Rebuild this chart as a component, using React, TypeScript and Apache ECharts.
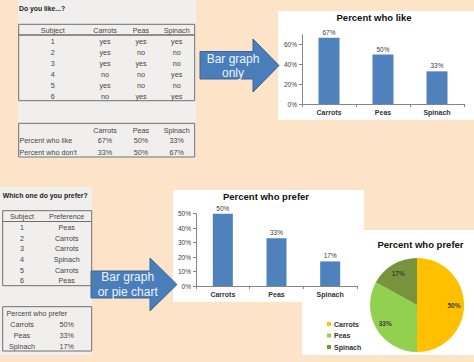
import React, { useEffect, useRef } from "react";
import * as echarts from "echarts";

// ---------- data ----------
const vegetables = ["Carrots", "Peas", "Spinach"];
const subjects = [1, 2, 3, 4, 5, 6];
const likesCarrots = ["yes", "yes", "yes", "no", "yes", "no"];
const likesPeas = ["yes", "no", "yes", "no", "no", "yes"];
const likesSpinach = ["yes", "no", "no", "yes", "no", "yes"];
const percentLike = [67, 50, 33];
const percentDislike = [33, 50, 67];
const preferences = ["Peas", "Carrots", "Carrots", "Spinach", "Carrots", "Peas"];
const percentPrefer = [50, 33, 17];

const FONT = "Liberation Sans, Arial, sans-serif";
const BLUE = "#4f81bd";
const PIE_COLORS = ["#ffc000", "#92d050", "#77933c"];
const TABLE_TEXT = "#454545";

const txt = (text: string, x: number, y: number, extra: any = {}) => ({
  type: "text",
  x,
  y,
  z: 5,
  style: {
    text,
    fill: TABLE_TEXT,
    fontSize: 7.2,
    fontFamily: FONT,
    align: "center",
    verticalAlign: "middle",
    ...extra,
  },
});

const rect = (x: number, y: number, w: number, h: number, style: any, z = 0) => ({
  type: "rect",
  z,
  shape: { x, y, width: w, height: h },
  style,
});

const hline = (x1: number, x2: number, y: number, lw = 1) => ({
  type: "line",
  z: 4,
  shape: { x1, y1: y, x2, y2: y },
  style: { stroke: "#6f6f6f", lineWidth: lw },
});

const arrow = (x0: number, xh: number, xt: number, ry0: number, ry1: number, hy0: number, hy1: number, ty: number) => ({
  type: "polygon",
  z: 3,
  shape: {
    points: [
      [x0, ry0],
      [xh, ry0],
      [xh, hy0],
      [xt, ty],
      [xh, hy1],
      [xh, ry1],
      [x0, ry1],
    ],
  },
  style: { fill: "#4a7ebb", stroke: "#3a6497", lineWidth: 1 },
});

function buildGraphics() {
  const els: any[] = [];
  // panels
  els.push(rect(18, 0, 178, 158, { fill: "#f0efee" }));
  els.push(rect(0, 187, 92, 168, { fill: "#f0efee" }));
  els.push(rect(278, 11, 196, 109, { fill: "#ffffff" }));
  els.push(rect(173, 190, 191, 112, { fill: "#ffffff" }));
  els.push(rect(302, 230, 172, 125, { fill: "#ffffff" }));

  // table 1
  els.push(txt("Do you like...?", 19, 8.5, { align: "left", fontWeight: "bold", fontSize: 6.8, fill: "#222" }));
  els.push(rect(18.7, 24.3, 176, 76.4, { fill: "none", stroke: "#6f6f6f", lineWidth: 1 }, 4));
  els.push(hline(18.7, 194.7, 35, 1.3));
  const cols1 = [52.7, 105, 141, 176.7];
  ["Subject", ...vegetables].forEach((h, i) => els.push(txt(h, cols1[i], 30)));
  subjects.forEach((s, r) => {
    const y = 41.3 + r * 10.95;
    els.push(txt(String(s), cols1[0], y));
    els.push(txt(likesCarrots[r], cols1[1], y));
    els.push(txt(likesPeas[r], cols1[2], y));
    els.push(txt(likesSpinach[r], cols1[3], y));
  });

  // table 2
  els.push(rect(18.7, 123.3, 176, 33.7, { fill: "none", stroke: "#6f6f6f", lineWidth: 1 }, 4));
  vegetables.forEach((v, i) => els.push(txt(v, cols1[i + 1], 130)));
  els.push(txt("Percent who like", 19.5, 140.7, { align: "left" }));
  els.push(txt("Percent who don't", 19.5, 152, { align: "left" }));
  percentLike.forEach((p, i) => els.push(txt(p + "%", cols1[i + 1], 140.7)));
  percentDislike.forEach((p, i) => els.push(txt(p + "%", cols1[i + 1], 152)));

  // table 3
  els.push(txt("Which one do you prefer?", 2.7, 195.3, { align: "left", fontWeight: "bold", fontSize: 6.9, fill: "#222" }));
  els.push(rect(2.7, 210.7, 89, 75, { fill: "none", stroke: "#6f6f6f", lineWidth: 1 }, 4));
  els.push(hline(2.7, 91.7, 221.5, 1.2));
  const cols3 = [22, 66.7];
  els.push(txt("Subject", cols3[0], 216.5));
  els.push(txt("Preference", cols3[1], 216.5));
  subjects.forEach((s, r) => {
    const y = 227.7 + r * 10.6;
    els.push(txt(String(s), cols3[0], y));
    els.push(txt(preferences[r], cols3[1], y));
  });

  // table 4
  els.push(rect(2.7, 306.7, 89, 44.3, { fill: "none", stroke: "#6f6f6f", lineWidth: 1 }, 4));
  els.push(txt("Percent who prefer", 6.5, 313.7, { align: "left" }));
  vegetables.forEach((v, i) => {
    const y = 324.7 + i * 10.8;
    els.push(txt(v, cols3[0], y));
    els.push(txt(percentPrefer[i] + "%", cols3[1], y));
  });

  // arrows
  els.push(arrow(200, 253, 279, 51.5, 79, 39, 92, 65.5));
  els.push(txt("Bar graph\nonly", 233, 66, { fontSize: 12, fill: "#eef3fa", lineHeight: 14.6 }));
  els.push(arrow(91, 150, 177, 271, 298, 258, 311, 284.5));
  els.push(txt("Bar graph\nor pie chart", 127.7, 284.7, { fontSize: 12, fill: "#eef3fa", lineHeight: 14.7 }));

  // chart titles
  const titleStyle = { fontSize: 9.5, fontWeight: "bold", fill: "#111" };
  els.push(txt("Percent who like", 374, 17.5, titleStyle));
  els.push(txt("Percent who prefer", 266, 196.3, titleStyle));
  els.push(txt("Percent who prefer", 420.5, 244.5, titleStyle));
  return els;
}

const axisLabelY = { fontSize: 6.5, color: "#404040", fontFamily: FONT, margin: 5, formatter: "{value}%" };
const axisLabelX = { fontSize: 7, fontWeight: "bold", color: "#333", fontFamily: FONT, margin: 4.5 };
const axisLine = { show: true, lineStyle: { color: "#868686", width: 1 } };
const axisTick = { show: true, length: 3, lineStyle: { color: "#868686" } };
const barLabel = { show: true, position: "top", distance: 2, formatter: "{c}%", fontSize: 6.5, color: "#404040", fontFamily: FONT };

export default function App() {
  const ref = useRef<HTMLDivElement>(null);
  useEffect(() => {
    document.body.style.margin = "0";
    if (!ref.current) return;
    const chart = echarts.init(ref.current, undefined, { renderer: "svg" });
    const pieData = vegetables.map((name, i) => ({ name, value: percentPrefer[i], itemStyle: { color: PIE_COLORS[i] } }));
    chart.setOption({
      animation: false,
      backgroundColor: "#fde4c9",
      textStyle: { fontFamily: FONT },
      graphic: { elements: buildGraphics() },
      grid: [
        { left: 302, top: 34.7, width: 162, height: 69.3 },
        { left: 196, top: 213.7, width: 161, height: 72.3 },
      ],
      xAxis: [
        { type: "category", gridIndex: 0, data: vegetables, axisLine, axisTick, axisLabel: axisLabelX },
        { type: "category", gridIndex: 1, data: vegetables, axisLine, axisTick, axisLabel: axisLabelX },
      ],
      yAxis: [
        { type: "value", gridIndex: 0, min: 0, max: 70, interval: 20, axisLine, axisTick, splitLine: { show: false }, axisLabel: { ...axisLabelY, showMaxLabel: false } },
        { type: "value", gridIndex: 1, min: 0, max: 50, interval: 10, axisLine, axisTick, splitLine: { show: false }, axisLabel: { ...axisLabelY, showMaxLabel: true } },
      ],
      legend: {
        data: vegetables,
        orient: "vertical",
        left: 322,
        top: 315.5,
        itemWidth: 4,
        itemHeight: 4,
        itemGap: 4.5,
        icon: "rect",
        textStyle: { fontSize: 7, fontWeight: "bold", color: "#333", fontFamily: FONT, padding: [0, 0, 0, -2] },
      },
      series: [
        { type: "bar", xAxisIndex: 0, yAxisIndex: 0, data: percentLike, barWidth: 21, itemStyle: { color: BLUE }, label: barLabel },
        { type: "bar", xAxisIndex: 1, yAxisIndex: 1, data: percentPrefer, barWidth: 20, itemStyle: { color: BLUE }, label: barLabel },
        {
          type: "pie",
          center: [417, 305],
          radius: 47,
          startAngle: 90,
          clockwise: true,
          data: pieData,
          label: { show: false },
          labelLine: { show: false },
          itemStyle: { borderWidth: 0 },
        },
        {
          type: "pie",
          center: [417, 305],
          radius: [21, 47],
          startAngle: 90,
          clockwise: true,
          silent: true,
          legendHoverLink: false,
          data: vegetables.map((name, i) => ({ name, value: percentPrefer[i] })),
          itemStyle: { color: "rgba(0,0,0,0)", borderWidth: 0 },
          label: { show: true, position: "inside", formatter: "{c}%", fontSize: 6.5, fontWeight: "bold", color: "#404040", fontFamily: FONT },
          labelLine: { show: false },
        },
      ],
    });
    return () => chart.dispose();
  }, []);
  return <div ref={ref} style={{ width: 474, height: 362 }} />;
}
